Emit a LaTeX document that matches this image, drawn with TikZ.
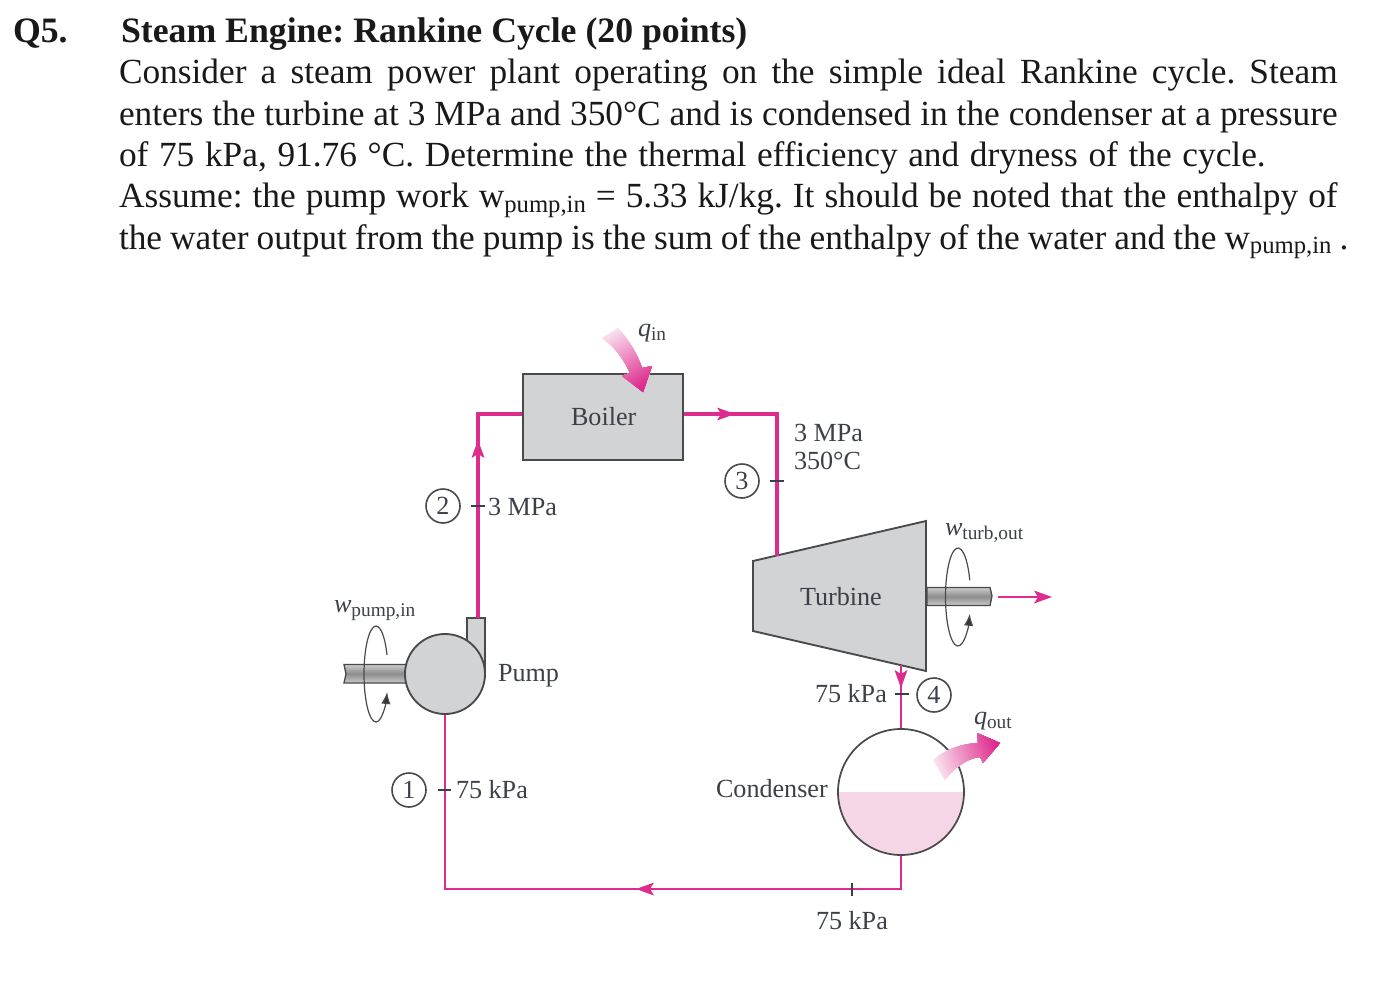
\documentclass[tikz,border=0pt]{standalone}
\usepackage{fontspec}
\setmainfont{Liberation Serif}
\usetikzlibrary{arrows.meta}
\frenchspacing
\definecolor{pipec}{HTML}{DE2C8E}
\definecolor{bodyc}{HTML}{D1D3D4}
\definecolor{edgec}{HTML}{4A4A4C}
\definecolor{labc}{HTML}{3C4048}
\definecolor{waterc}{HTML}{F5D6E6}
\newcommand{\bodyfont}{\fontsize{26.5pt}{30pt}\selectfont}
\newcommand{\titlefont}{\fontsize{26.8pt}{30pt}\selectfont\bfseries}
\newcommand{\labfont}{\fontsize{19.6pt}{22pt}\selectfont}
\newcommand{\subfontx}{\fontsize{14.5pt}{16pt}\selectfont}
\newcommand{\symfont}{\fontsize{19.6pt}{22pt}\selectfont\itshape}
\newcommand{\bsub}[1]{\raisebox{-3.5pt}{\fontsize{18.5pt}{21pt}\selectfont #1}}
\newcommand{\lsym}[2]{{\symfont #1}\raisebox{-3pt}{\subfontx #2}}
\newcommand{\pipearrow}[3]{\fill[pipec,shift={(#1,#2)},rotate=#3] (9,0) -- (-9,-6.5) -- (-5,0) -- (-9,6.5) -- cycle;}
% gradient along a direction: start point x, y, visual angle
\newcommand{\gradstrips}[3]{\begin{scope}[shift={(#1,#2)},rotate=#3]
  \foreach \i [evaluate=\i as \c using \i*100/36] in {0,...,36}{\fill[pipec!\c!white] (2*\i-4,-70) rectangle (90,70);}
\end{scope}}
\tikzset{
  txt/.style={anchor=base west,inner sep=0pt,outer sep=0pt,text=black!90},
  lab/.style={anchor=base west,inner sep=0pt,outer sep=0pt,text=labc,font=\labfont},
  num/.style={circle,draw=edgec,line width=1.2pt,minimum size=25.5pt,inner sep=0pt,text=labc,font=\labfont,fill=white},
  pipe/.style={draw=pipec,line width=2.6pt},
  thinpipe/.style={draw=pipec,line width=2pt},
  tick/.style={draw=labc,line width=0.9pt},
  equip/.style={draw=edgec,fill=bodyc,line width=1.4pt},
  spin/.style={draw=edgec,line width=0.9pt,-{Latex[length=9pt,width=7pt,fill=black!80]}},
  shaft/.style={draw=edgec,line width=1pt,top color=black!20,bottom color=black!20,middle color=black!45},
}
\begin{document}
\begin{tikzpicture}[x=0.75pt,y=-0.75pt]
\useasboundingbox (0,0) rectangle (1380,984);
% text block
\node[txt,font=\titlefont] (q) at (13,43) {Q5.};
\node[txt,font=\titlefont] (title) at (121,43) {Steam Engine: Rankine Cycle (20 points)};
\node[txt,font=\bodyfont] (l1) at (119,84) {\makebox[914pt][s]{Consider a steam power plant operating on the simple ideal Rankine cycle. Steam}};
\node[txt,font=\bodyfont] (l2) at (119,126) {\makebox[914pt][s]{enters the turbine at 3 MPa and 350°C and is condensed in the condenser at a pressure}};
\node[txt,font=\bodyfont] (l3) at (119,167) {\makebox[860pt][s]{of 75 kPa, 91.76 °C. Determine the thermal efficiency and dryness of the cycle.}};
\node[txt,font=\bodyfont] (l4) at (119,208) {\makebox[914pt][s]{Assume: the pump work w\bsub{pump,in} = 5.33 kJ/kg. It should be noted that the enthalpy of}};
\node[txt,font=\bodyfont] (l5) at (119,249) {\makebox[922pt][s]{the water output from the pump is the sum of the enthalpy of the water and the w\bsub{pump,in} .}};
% named connection points
\coordinate (turbIn) at (777,556);
\coordinate (turbOut) at (901,665);
\coordinate (leftCorner) at (478,414);
\coordinate (rightCorner) at (777,414);
\coordinate (pumpOut) at (478,618);
\coordinate (botRight) at (901,889);
\coordinate (botLeft) at (445,889);
% equipment
\node[equip,rectangle,minimum width=120pt,minimum height=64.5pt,inner sep=0pt] (boiler) at (603,417) {};
\node[lab] (boilerlab) at (571,425) {Boiler};
\path[equip] (753,561) -- (926,521) -- (926,671) -- (753,631) -- cycle;
\node[lab] (turbinelab) at (800,605) {Turbine};
\path[equip] (467,618) rectangle (485,674);
\path[shaft] (344,664.5) -- (406,664.5) -- (406,683) -- (344,683) -- (346,674) -- cycle;
\node[equip,circle,minimum size=60pt,inner sep=0pt] (pump) at (445,674) {};
\path[shaft] (927,587.5) -- (990,587.5) -- (992,596) -- (990,605.5) -- (927,605.5) -- cycle;
\node[lab] (pumplab) at (498,681) {Pump};
\node[lab] (condlab) at (716,797) {Condenser};
% condenser
\fill[waterc] (838,792) arc[start angle=180,end angle=0,radius=63] -- cycle;
\node[circle,draw=edgec,line width=1.3pt,minimum size=94.5pt,inner sep=0pt] (cond) at (901,792) {};
% pipes
\draw[pipe] (pumpOut) -- (leftCorner) -- (boiler.west |- leftCorner);
\draw[pipe] (boiler.east |- rightCorner) -- (rightCorner) -- (turbIn);
\draw[thinpipe] (turbOut) -- (cond.north);
\draw[thinpipe] (cond.south) -- (botRight) -- (botLeft) -- (pump.south);
\pipearrow{478}{449}{90}
\pipearrow{726}{414}{0}
\pipearrow{901}{679}{-90}
\pipearrow{645}{889}{180}
\draw[thinpipe] (998,597) -- (1040,597);
\pipearrow{1043}{597}{0}
% rotation arrows
\draw[spin] (376,674) ++(-23.5:12 and 48) arc[start angle=-23.5,end angle=-338,x radius=12,y radius=48];
\draw[spin] (958,597) ++(-20:12.5 and 49) arc[start angle=-20,end angle=-340,x radius=12.5,y radius=49];
% ticks
\draw[tick] (471,506) -- (485,506);
\draw[tick] (770,481) -- (784,481);
\draw[tick] (895,694) -- (909,694);
\draw[tick] (438,790) -- (451,790);
\draw[tick] (852,883) -- (852,896);
% state numbers
\node[num] (s1) at (409,790) {1};
\node[num] (s2) at (443,506) {2};
\node[num] (s3) at (742,481) {3};
\node[num] (s4) at (934,695) {4};
% labels
\node[lab] (p2) at (488,515) {3 MPa};
\node[lab] (p3a) at (794,441) {3 MPa};
\node[lab] (p3b) at (794,469) {350°C};
\node[lab] (p4) at (815,702) {75 kPa};
\node[lab] (p1) at (456,798) {75 kPa};
\node[lab] (p5) at (816,929) {75 kPa};
\node[lab] (qin) at (638,336) {\lsym{q}{in}};
\node[lab] (qout) at (974,724) {\lsym{q}{out}};
\node[lab] (wp) at (334,612) {\lsym{w}{pump,in}};
\node[lab] (wt) at (945,535) {\lsym{w}{turb,out}};
% heat arrows
\begin{scope}
\clip (602,338) .. controls (615,347) and (623,358) .. (630,373) -- (622,376) -- (643,392) -- (652,366) -- (642,368) .. controls (637,353) and (628,339) .. (618,328) -- cycle;
\gradstrips{605}{328}{-58}
\end{scope}
\begin{scope}
\clip (933,760) .. controls (945,750) and (960,744) .. (978,743) -- (977,733) -- (1000,743) -- (983,763) -- (980,757) .. controls (968,758) and (955,767) .. (945,780) -- cycle;
\gradstrips{932}{772}{20}
\end{scope}
\end{tikzpicture}
\end{document}
